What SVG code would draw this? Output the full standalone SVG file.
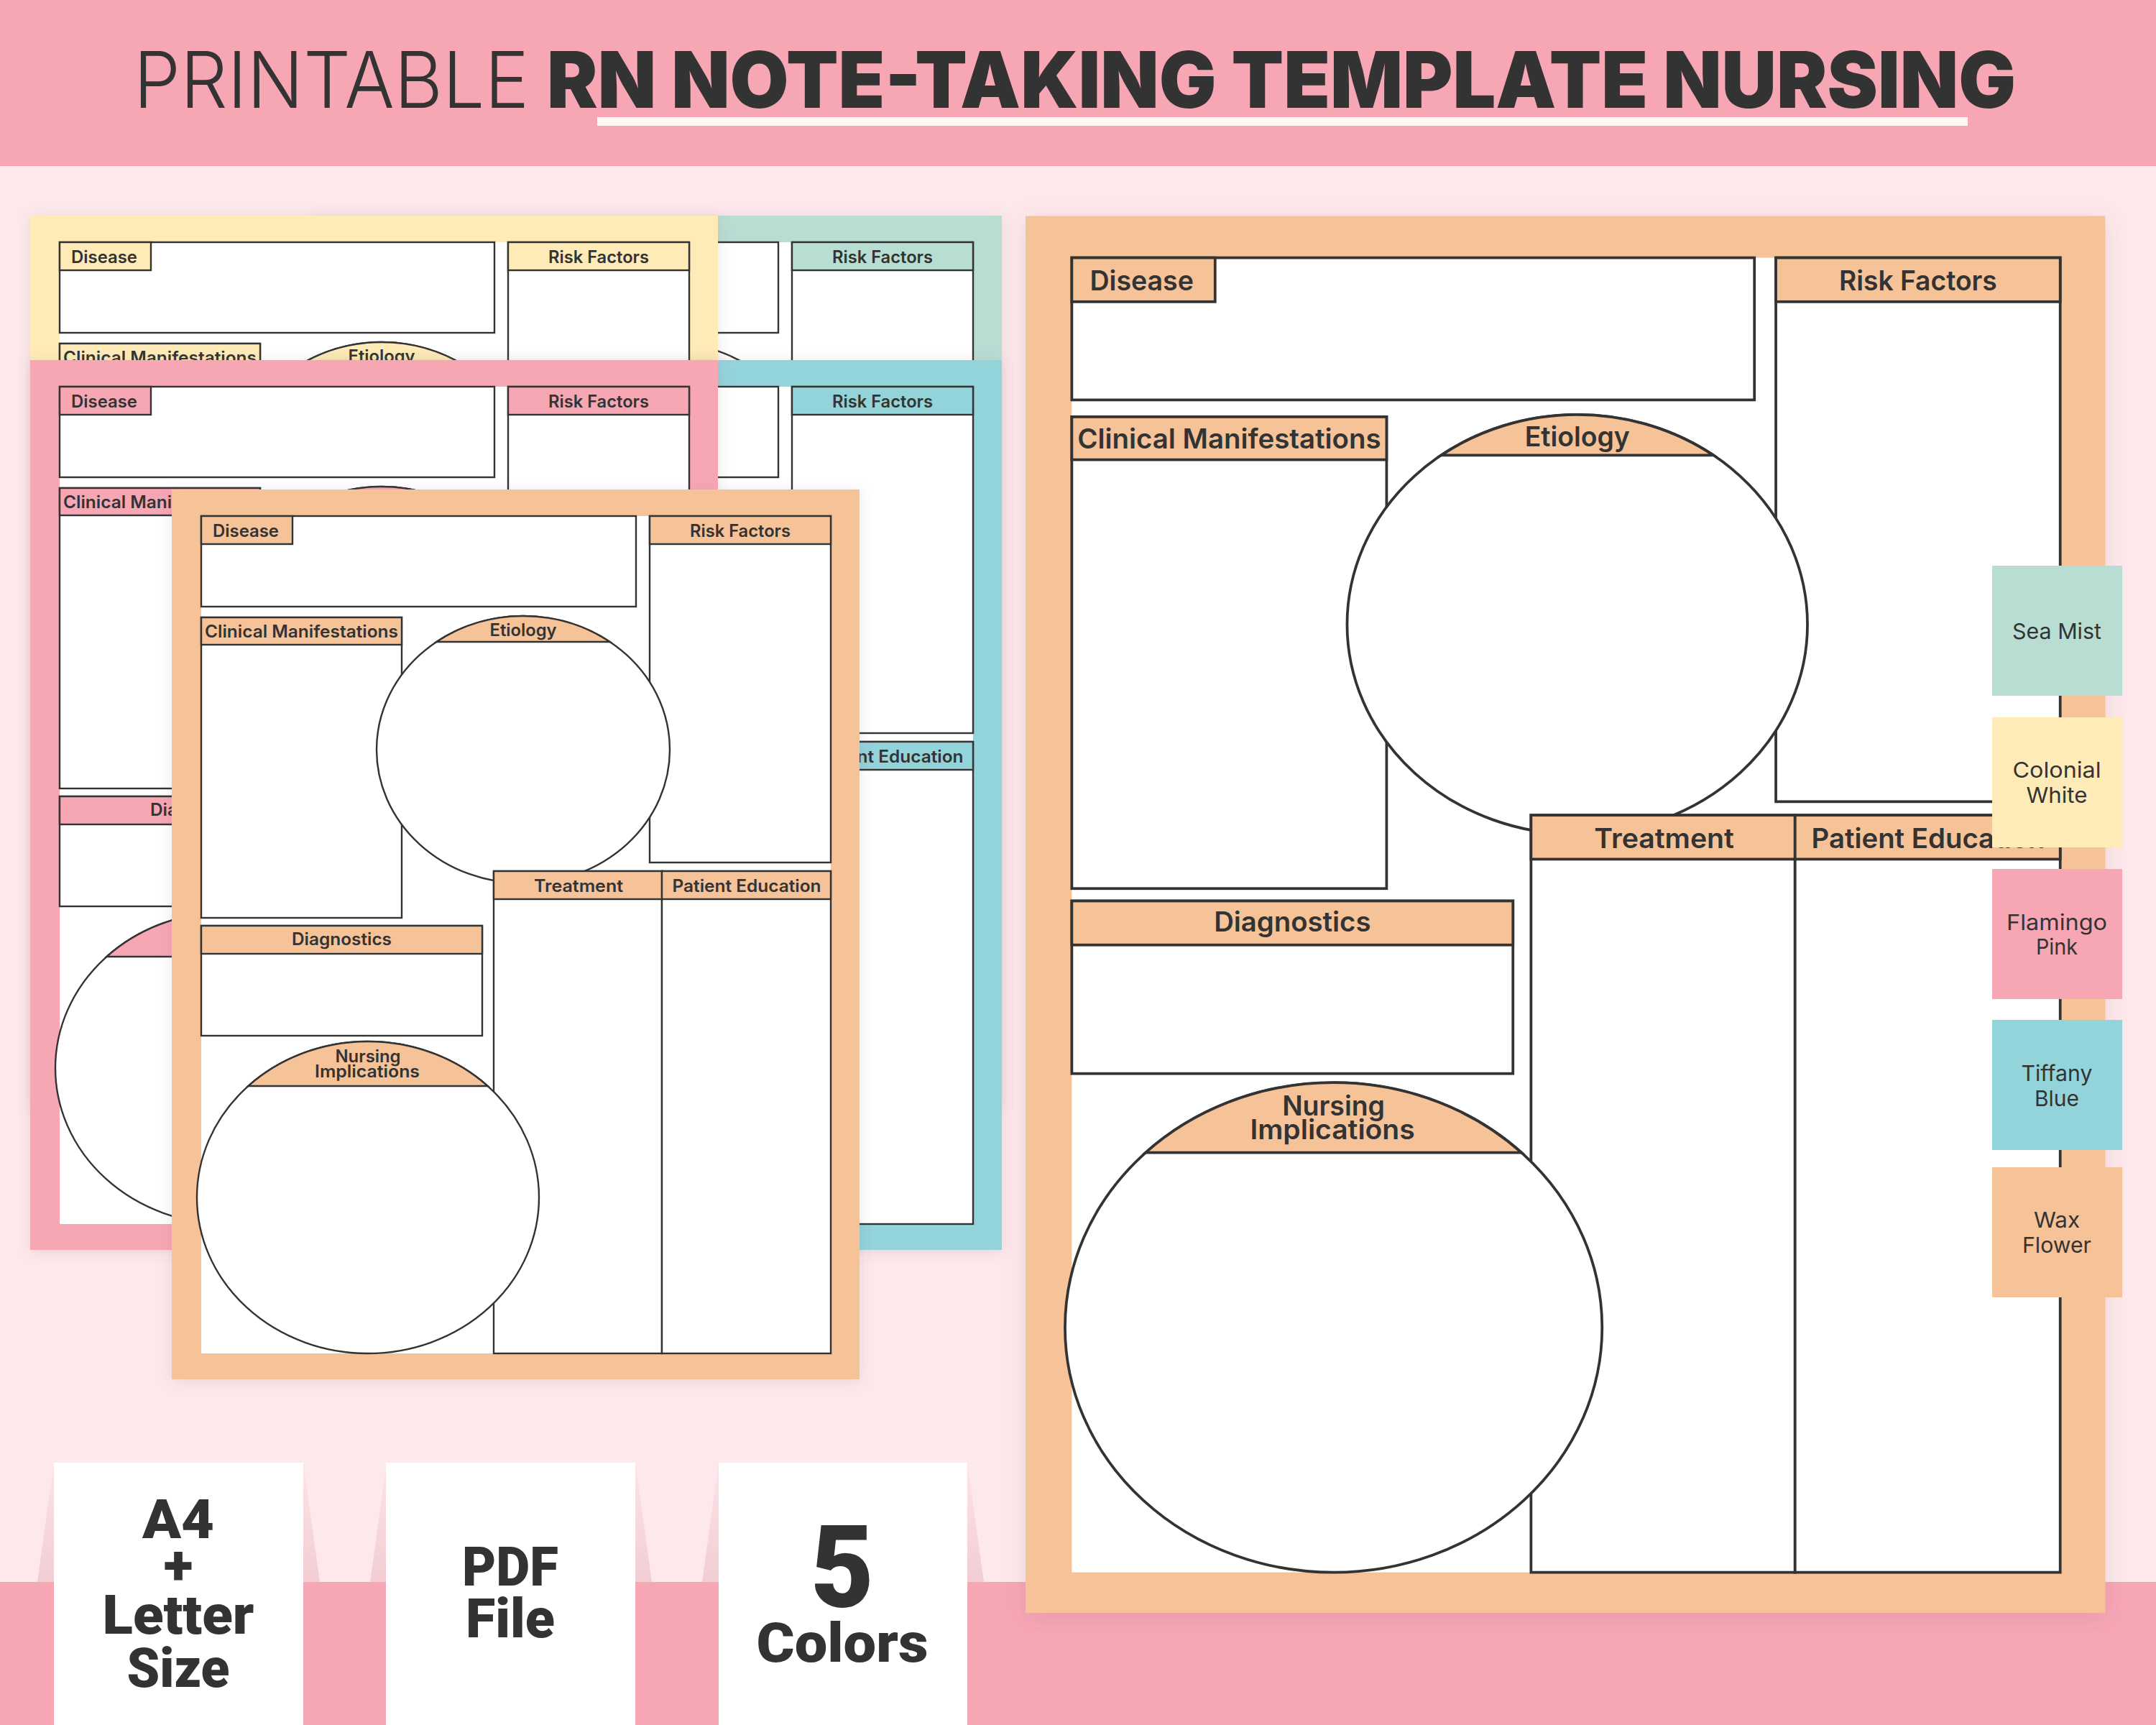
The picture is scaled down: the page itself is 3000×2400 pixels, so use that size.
<svg xmlns="http://www.w3.org/2000/svg" width="3000" height="2400" viewBox="0 0 3000 2400">
<defs>
<filter id="soft" x="-5%" y="-5%" width="110%" height="110%"><feDropShadow dx="0" dy="3" stdDeviation="9" flood-color="#8a5a60" flood-opacity="0.16"/></filter>
<linearGradient id="fold" x1="0" y1="0" x2="0" y2="1"><stop offset="0" stop-color="#FCE3E7"/><stop offset="1" stop-color="#F2CDD4"/></linearGradient>
</defs>
<style>
.w{fill:#fff;stroke:#333;stroke-width:2.4}
.plain{fill:#fff}
.mint .h{fill:#B8DDD3}.yellow .h{fill:#FEEBB8}.teal .h{fill:#93D3DA}.pink .h{fill:#F7A6B4}.orange .h{fill:#F6C298}
.h{stroke:#333;stroke-width:2.4}
.t{font-family:Inter,"Noto Sans","Liberation Sans",sans-serif;font-weight:600;font-size:24px;fill:#333;text-anchor:middle}
.sw{font-family:Inter,"Noto Sans","Liberation Sans",sans-serif;font-weight:400;font-size:30px;fill:#333;text-anchor:middle}
.c{font-family:Roboto,"Liberation Sans",sans-serif;font-weight:900;font-size:76px;fill:#333;text-anchor:middle}
</style>
<rect id="background" width="3000" height="2400" fill="#FDE9EC"/>
<rect id="footer-band" y="2201" width="3000" height="199" fill="#F7A6B4"/>
<g id="title-band">
<rect width="3000" height="231" fill="#F7A6B4"/>
<text x="186" y="150" font-family="Inter,'Noto Sans','Liberation Sans',sans-serif" font-weight="300" font-size="108" fill="#333" textLength="550" lengthAdjust="spacingAndGlyphs">PRINTABLE</text>
<text x="761" y="150" font-family="Inter,'Noto Sans','Liberation Sans',sans-serif" font-weight="900" font-size="108" fill="#333" textLength="2044" lengthAdjust="spacingAndGlyphs">RN NOTE-TAKING TEMPLATE NURSING</text>
<rect x="831" y="163" width="1907" height="12" fill="#FFF9F3"/>
</g>

<g id="page-sea-mist" class="mint" transform="translate(437 300)">
<rect width="957" height="1238" fill="#B8DDD3" filter="url(#soft)"/>
<rect class="plain" x="41" y="37" width="876" height="1165"/>
<rect class="w" x="41" y="37" width="605" height="126"/>
<rect class="w" x="665" y="37" width="252" height="482"/>
<rect class="h" x="665" y="37" width="252" height="39"/>
<text class="t" x="791" y="66" textLength="140" lengthAdjust="spacingAndGlyphs">Risk Factors</text>
<ellipse class="w" cx="489" cy="362" rx="204" ry="186"/>
</g>

<g id="page-colonial-white" class="yellow" transform="translate(42 300)">
<rect width="957" height="1238" fill="#FEEBB8" filter="url(#soft)"/>
<rect class="plain" x="41" y="37" width="876" height="1165"/>
<rect class="w" x="41" y="37" width="605" height="126"/>
<rect class="h" x="41" y="37" width="127" height="39"/>
<text class="t" x="103" y="66" textLength="92" lengthAdjust="spacingAndGlyphs">Disease</text>
<rect class="w" x="665" y="37" width="252" height="482"/>
<rect class="h" x="665" y="37" width="252" height="39"/>
<text class="t" x="791" y="66" textLength="140" lengthAdjust="spacingAndGlyphs">Risk Factors</text>
<rect class="w" x="41" y="178" width="279" height="418"/>
<rect class="h" x="41" y="178" width="279" height="38"/>
<text class="t" x="180.500" y="206" textLength="269" lengthAdjust="spacingAndGlyphs">Clinical Manifestations</text>
<ellipse class="w" cx="489" cy="362" rx="204" ry="186"/>
<path class="h" d="M368.400 212A204 186 0 0 1 609.600 212Z"/>
<text class="t" x="489" y="204" textLength="93" lengthAdjust="spacingAndGlyphs">Etiology</text>
</g>

<g id="page-tiffany-blue" class="teal" transform="translate(437 501)">
<rect width="957" height="1238" fill="#93D3DA" filter="url(#soft)"/>
<rect class="plain" x="41" y="37" width="876" height="1165"/>
<rect class="w" x="41" y="37" width="605" height="126"/>
<rect class="w" x="665" y="37" width="252" height="482"/>
<rect class="h" x="665" y="37" width="252" height="39"/>
<text class="t" x="791" y="66" textLength="140" lengthAdjust="spacingAndGlyphs">Risk Factors</text>
<rect class="w" x="682" y="531" width="235" height="671"/>
<rect class="h" x="682" y="531" width="235" height="39"/>
<text class="t" x="800" y="560" textLength="207" lengthAdjust="spacingAndGlyphs">Patient Education</text>
</g>

<g id="page-flamingo-pink" class="pink" transform="translate(42 501)">
<rect width="957" height="1238" fill="#F7A6B4" filter="url(#soft)"/>
<rect class="plain" x="41" y="37" width="876" height="1165"/>
<rect class="w" x="41" y="37" width="605" height="126"/>
<rect class="h" x="41" y="37" width="127" height="39"/>
<text class="t" x="103" y="66" textLength="92" lengthAdjust="spacingAndGlyphs">Disease</text>
<rect class="w" x="665" y="37" width="252" height="482"/>
<rect class="h" x="665" y="37" width="252" height="39"/>
<text class="t" x="791" y="66" textLength="140" lengthAdjust="spacingAndGlyphs">Risk Factors</text>
<rect class="w" x="41" y="178" width="279" height="418"/>
<rect class="h" x="41" y="178" width="279" height="38"/>
<text class="t" x="180.500" y="206" textLength="269" lengthAdjust="spacingAndGlyphs">Clinical Manifestations</text>
<ellipse class="w" cx="489" cy="362" rx="204" ry="186"/>
<path class="h" d="M368.400 212A204 186 0 0 1 609.600 212Z"/>
<rect class="w" x="41" y="607" width="391" height="153"/>
<rect class="h" x="41" y="607" width="391" height="39"/>
<text class="t" x="236.500" y="634" textLength="139" lengthAdjust="spacingAndGlyphs">Diagnostics</text>
<ellipse class="w" cx="273" cy="985" rx="238" ry="217"/>
<path class="h" d="M106.400 830A238 217 0 0 1 439.600 830Z"/>
</g>

<g id="page-wax-flower-small" class="orange" transform="translate(239 681)">
<rect width="957" height="1238" fill="#F6C298" filter="url(#soft)"/>
<rect class="plain" x="41" y="37" width="876" height="1165"/>
<rect class="w" x="41" y="37" width="605" height="126"/>
<rect class="h" x="41" y="37" width="127" height="39"/>
<text class="t" x="103" y="66" textLength="92" lengthAdjust="spacingAndGlyphs">Disease</text>
<rect class="w" x="665" y="37" width="252" height="482"/>
<rect class="h" x="665" y="37" width="252" height="39"/>
<text class="t" x="791" y="66" textLength="140" lengthAdjust="spacingAndGlyphs">Risk Factors</text>
<rect class="w" x="41" y="178" width="279" height="418"/>
<rect class="h" x="41" y="178" width="279" height="38"/>
<text class="t" x="180.500" y="206" textLength="269" lengthAdjust="spacingAndGlyphs">Clinical Manifestations</text>
<ellipse class="w" cx="489" cy="362" rx="204" ry="186"/>
<path class="h" d="M368.400 212A204 186 0 0 1 609.600 212Z"/>
<text class="t" x="489" y="204" textLength="93" lengthAdjust="spacingAndGlyphs">Etiology</text>
<rect class="w" x="448" y="531" width="234" height="671"/>
<rect class="w" x="682" y="531" width="235" height="671"/>
<rect class="h" x="448" y="531" width="234" height="39"/>
<rect class="h" x="682" y="531" width="235" height="39"/>
<text class="t" x="566" y="560" textLength="124" lengthAdjust="spacingAndGlyphs">Treatment</text>
<text class="t" x="800" y="560" textLength="207" lengthAdjust="spacingAndGlyphs">Patient Education</text>
<rect class="w" x="41" y="607" width="391" height="153"/>
<rect class="h" x="41" y="607" width="391" height="39"/>
<text class="t" x="236.500" y="634" textLength="139" lengthAdjust="spacingAndGlyphs">Diagnostics</text>
<ellipse class="w" cx="273" cy="985" rx="238" ry="217"/>
<path class="h" d="M106.400 830A238 217 0 0 1 439.600 830Z"/>
<text class="t" x="273" y="797" textLength="91" lengthAdjust="spacingAndGlyphs">Nursing</text>
<text class="t" x="272" y="818" textLength="146" lengthAdjust="spacingAndGlyphs">Implications</text>
</g>

<g id="page-wax-flower-large" class="orange" transform="translate(1427 300.500) scale(1.570)">
<rect width="957" height="1238" fill="#F6C298" filter="url(#soft)"/>
<rect class="plain" x="41" y="37" width="876" height="1165"/>
<rect class="w" x="41" y="37" width="605" height="126"/>
<rect class="h" x="41" y="37" width="127" height="39"/>
<text class="t" x="103" y="66" textLength="92" lengthAdjust="spacingAndGlyphs">Disease</text>
<rect class="w" x="665" y="37" width="252" height="482"/>
<rect class="h" x="665" y="37" width="252" height="39"/>
<text class="t" x="791" y="66" textLength="140" lengthAdjust="spacingAndGlyphs">Risk Factors</text>
<rect class="w" x="41" y="178" width="279" height="418"/>
<rect class="h" x="41" y="178" width="279" height="38"/>
<text class="t" x="180.500" y="206" textLength="269" lengthAdjust="spacingAndGlyphs">Clinical Manifestations</text>
<ellipse class="w" cx="489" cy="362" rx="204" ry="186"/>
<path class="h" d="M368.400 212A204 186 0 0 1 609.600 212Z"/>
<text class="t" x="489" y="204" textLength="93" lengthAdjust="spacingAndGlyphs">Etiology</text>
<rect class="w" x="448" y="531" width="234" height="671"/>
<rect class="w" x="682" y="531" width="235" height="671"/>
<rect class="h" x="448" y="531" width="234" height="39"/>
<rect class="h" x="682" y="531" width="235" height="39"/>
<text class="t" x="566" y="560" textLength="124" lengthAdjust="spacingAndGlyphs">Treatment</text>
<text class="t" x="800" y="560" textLength="207" lengthAdjust="spacingAndGlyphs">Patient Education</text>
<rect class="w" x="41" y="607" width="391" height="153"/>
<rect class="h" x="41" y="607" width="391" height="39"/>
<text class="t" x="236.500" y="634" textLength="139" lengthAdjust="spacingAndGlyphs">Diagnostics</text>
<ellipse class="w" cx="273" cy="985" rx="238" ry="217"/>
<path class="h" d="M106.400 830A238 217 0 0 1 439.600 830Z"/>
<text class="t" x="273" y="797" textLength="91" lengthAdjust="spacingAndGlyphs">Nursing</text>
<text class="t" x="272" y="818" textLength="146" lengthAdjust="spacingAndGlyphs">Implications</text>
</g>

<g id="swatches">
<g id="swatch-sea-mist"><rect x="2772" y="787" width="181" height="181" fill="#B8DDD3"/><text class="sw" x="2862" y="889" textLength="124" lengthAdjust="spacingAndGlyphs">Sea Mist</text></g>
<g id="swatch-colonial-white"><rect x="2772" y="998" width="181" height="181" fill="#FEEBB8"/><text class="sw" x="2862" y="1082" textLength="123" lengthAdjust="spacingAndGlyphs">Colonial</text><text class="sw" x="2862" y="1117" textLength="85" lengthAdjust="spacingAndGlyphs">White</text></g>
<g id="swatch-flamingo-pink"><rect x="2772" y="1209" width="181" height="181" fill="#F7A6B4"/><text class="sw" x="2862" y="1294" textLength="140" lengthAdjust="spacingAndGlyphs">Flamingo</text><text class="sw" x="2862" y="1328" textLength="58" lengthAdjust="spacingAndGlyphs">Pink</text></g>
<g id="swatch-tiffany-blue"><rect x="2772" y="1419" width="181" height="181" fill="#93D3DA"/><text class="sw" x="2862" y="1504" textLength="99" lengthAdjust="spacingAndGlyphs">Tiffany</text><text class="sw" x="2862" y="1539" textLength="62" lengthAdjust="spacingAndGlyphs">Blue</text></g>
<g id="swatch-wax-flower"><rect x="2772" y="1624" width="181" height="181" fill="#F6C298"/><text class="sw" x="2862" y="1708" textLength="64" lengthAdjust="spacingAndGlyphs">Wax</text><text class="sw" x="2862" y="1743" textLength="96" lengthAdjust="spacingAndGlyphs">Flower</text></g>
</g>

<g id="card-size">
<path d="M75 2035L52 2201H445L422 2035Z" fill="url(#fold)"/>
<rect x="75" y="2035" width="347" height="365" fill="#fff"/>
<text class="c" x="248" y="2140" textLength="100" lengthAdjust="spacingAndGlyphs">A4</text>
<text class="c" x="248" y="2204">+</text>
<text class="c" x="248" y="2273" textLength="211" lengthAdjust="spacingAndGlyphs">Letter</text>
<text class="c" x="248" y="2347" textLength="143" lengthAdjust="spacingAndGlyphs">Size</text>
</g>
<g id="card-format">
<path d="M538 2035L515 2201H907L884 2035Z" fill="url(#fold)"/>
<rect x="537" y="2035" width="347" height="365" fill="#fff"/>
<text class="c" x="710" y="2206" textLength="134" lengthAdjust="spacingAndGlyphs">PDF</text>
<text class="c" x="710" y="2278" textLength="124" lengthAdjust="spacingAndGlyphs">File</text>
</g>
<g id="card-colors">
<path d="M1000 2035L977 2201H1369L1346 2035Z" fill="url(#fold)"/>
<rect x="1000" y="2035" width="346" height="365" fill="#fff"/>
<text class="c" x="1172" y="2235" style="font-size:160px" textLength="88" lengthAdjust="spacingAndGlyphs">5</text>
<text class="c" x="1172" y="2312" textLength="239" lengthAdjust="spacingAndGlyphs">Colors</text>
</g>
</svg>
